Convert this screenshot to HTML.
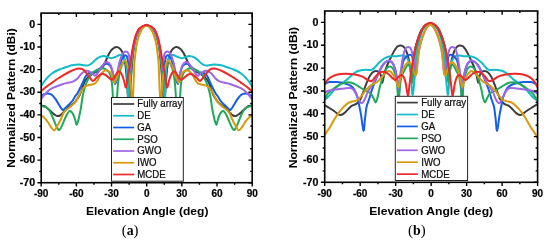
<!DOCTYPE html>
<html><head><meta charset="utf-8"><title>Normalized pattern vs elevation angle</title>
<style>html,body{margin:0;padding:0;background:#fff;}body{width:550px;height:242px;overflow:hidden;}svg{display:block;}</style>
</head><body>
<svg width="550" height="242" viewBox="0 0 550 242">
<rect width="550" height="242" fill="#fff"/>
<clipPath id="ca"><rect x="41.20" y="13.10" width="211.00" height="169.60"/></clipPath>
<g clip-path="url(#ca)" fill="none" stroke-width="2.00" stroke-linejoin="round" stroke-linecap="round">
<path stroke="#3d3d3d" d="M38.50,104.90C39.00,105.00 40.58,105.32 41.50,105.50C42.42,105.68 43.22,105.70 44.00,106.00C44.78,106.30 45.00,106.35 46.20,107.30C47.40,108.25 49.82,110.50 51.20,111.70C52.58,112.90 53.48,113.78 54.50,114.50C55.52,115.22 56.38,115.83 57.30,116.00C58.22,116.17 59.17,115.92 60.00,115.50C60.83,115.08 60.88,114.87 62.30,113.50C63.72,112.13 66.43,109.15 68.50,107.30C70.57,105.45 73.20,103.87 74.70,102.40C76.20,100.93 76.67,99.73 77.50,98.50C78.33,97.27 78.90,96.75 79.70,95.00C80.50,93.25 81.50,90.17 82.30,88.00C83.10,85.83 83.50,83.85 84.50,82.00C85.50,80.15 86.88,78.32 88.30,76.90C89.72,75.48 91.38,74.48 93.00,73.50C94.62,72.52 96.40,72.05 98.00,71.00C99.60,69.95 101.22,69.08 102.60,67.20C103.98,65.32 105.18,62.02 106.30,59.70C107.42,57.38 108.27,55.08 109.30,53.30C110.33,51.52 111.28,50.03 112.50,49.00C113.72,47.97 115.35,47.13 116.60,47.10C117.85,47.07 119.02,47.90 120.00,48.80C120.98,49.70 121.80,50.97 122.50,52.50C123.20,54.03 123.73,56.08 124.20,58.00C124.67,59.92 124.92,61.17 125.30,64.00C125.68,66.83 126.13,70.67 126.50,75.00C126.87,79.33 127.12,84.50 127.50,90.00C127.88,95.50 128.38,107.67 128.80,108.00C129.22,108.33 129.60,97.50 130.00,92.00C130.40,86.50 130.82,80.00 131.20,75.00C131.58,70.00 131.90,66.17 132.30,62.00C132.70,57.83 133.07,53.67 133.60,50.00C134.13,46.33 134.73,43.00 135.50,40.00C136.27,37.00 137.20,33.93 138.20,32.00C139.20,30.07 140.45,29.41 141.50,28.40C142.55,27.39 143.67,26.42 144.50,25.95C145.33,25.48 145.83,25.60 146.50,25.60C147.17,25.60 147.67,25.48 148.50,25.95C149.33,26.42 150.45,27.39 151.50,28.40C152.55,29.41 153.80,30.07 154.80,32.00C155.80,33.93 156.73,37.00 157.50,40.00C158.27,43.00 158.87,46.33 159.40,50.00C159.93,53.67 160.30,57.83 160.70,62.00C161.10,66.17 161.42,70.00 161.80,75.00C162.18,80.00 162.60,86.50 163.00,92.00C163.40,97.50 163.78,108.33 164.20,108.00C164.62,107.67 165.12,95.50 165.50,90.00C165.88,84.50 166.13,79.33 166.50,75.00C166.87,70.67 167.32,66.83 167.70,64.00C168.08,61.17 168.33,59.92 168.80,58.00C169.27,56.08 169.80,54.03 170.50,52.50C171.20,50.97 172.02,49.70 173.00,48.80C173.98,47.90 175.15,47.07 176.40,47.10C177.65,47.13 179.28,47.97 180.50,49.00C181.72,50.03 182.67,51.52 183.70,53.30C184.73,55.08 185.58,57.38 186.70,59.70C187.82,62.02 189.02,65.32 190.40,67.20C191.78,69.08 193.40,69.95 195.00,71.00C196.60,72.05 198.38,72.52 200.00,73.50C201.62,74.48 203.28,75.48 204.70,76.90C206.12,78.32 207.50,80.15 208.50,82.00C209.50,83.85 209.90,85.83 210.70,88.00C211.50,90.17 212.50,93.25 213.30,95.00C214.10,96.75 214.67,97.27 215.50,98.50C216.33,99.73 216.80,100.93 218.30,102.40C219.80,103.87 222.43,105.45 224.50,107.30C226.57,109.15 229.28,112.13 230.70,113.50C232.12,114.87 232.17,115.08 233.00,115.50C233.83,115.92 234.78,116.17 235.70,116.00C236.62,115.83 237.48,115.22 238.50,114.50C239.52,113.78 240.42,112.90 241.80,111.70C243.18,110.50 245.60,108.25 246.80,107.30C248.00,106.35 248.22,106.30 249.00,106.00C249.78,105.70 250.58,105.68 251.50,105.50C252.42,105.32 254.00,105.00 254.50,104.90"/>
<path stroke="#12bcc6" d="M38.50,89.80C39.00,89.07 40.50,86.87 41.50,85.40C42.50,83.93 43.42,82.40 44.50,81.00C45.58,79.60 46.75,78.25 48.00,77.00C49.25,75.75 50.67,74.50 52.00,73.50C53.33,72.50 54.67,71.72 56.00,71.00C57.33,70.28 58.67,69.73 60.00,69.20C61.33,68.67 62.67,68.25 64.00,67.80C65.33,67.35 66.67,66.92 68.00,66.50C69.33,66.08 70.28,65.65 72.00,65.30C73.72,64.95 76.55,64.45 78.30,64.40C80.05,64.35 81.12,64.80 82.50,65.00C83.88,65.20 85.43,65.63 86.60,65.60C87.77,65.57 88.63,65.18 89.50,64.80C90.37,64.42 90.88,64.05 91.80,63.30C92.72,62.55 93.97,61.22 95.00,60.30C96.03,59.38 97.00,58.43 98.00,57.80C99.00,57.17 100.00,56.80 101.00,56.50C102.00,56.20 102.83,55.87 104.00,56.00C105.17,56.13 106.73,56.93 108.00,57.30C109.27,57.67 110.43,58.25 111.60,58.20C112.77,58.15 113.77,57.48 115.00,57.00C116.23,56.52 117.92,55.58 119.00,55.30C120.08,55.02 120.75,55.02 121.50,55.30C122.25,55.58 122.83,55.88 123.50,57.00C124.17,58.12 124.92,59.50 125.50,62.00C126.08,64.50 126.53,65.67 127.00,72.00C127.47,78.33 127.88,98.67 128.30,100.00C128.72,101.33 129.13,85.33 129.50,80.00C129.87,74.67 130.12,71.58 130.50,68.00C130.88,64.42 131.33,61.83 131.80,58.50C132.27,55.17 132.68,51.42 133.30,48.00C133.92,44.58 134.63,40.92 135.50,38.00C136.37,35.08 137.42,32.30 138.50,30.50C139.58,28.70 140.92,28.01 142.00,27.20C143.08,26.39 144.25,25.92 145.00,25.65C145.75,25.38 146.00,25.60 146.50,25.60C147.00,25.60 147.25,25.38 148.00,25.65C148.75,25.92 149.92,26.39 151.00,27.20C152.08,28.01 153.42,28.70 154.50,30.50C155.58,32.30 156.63,35.08 157.50,38.00C158.37,40.92 159.08,44.58 159.70,48.00C160.32,51.42 160.73,55.17 161.20,58.50C161.67,61.83 162.12,64.42 162.50,68.00C162.88,71.58 163.13,74.67 163.50,80.00C163.87,85.33 164.28,101.33 164.70,100.00C165.12,98.67 165.53,78.33 166.00,72.00C166.47,65.67 166.92,64.50 167.50,62.00C168.08,59.50 168.83,58.12 169.50,57.00C170.17,55.88 170.75,55.58 171.50,55.30C172.25,55.02 172.92,55.02 174.00,55.30C175.08,55.58 176.77,56.52 178.00,57.00C179.23,57.48 180.23,58.15 181.40,58.20C182.57,58.25 183.73,57.67 185.00,57.30C186.27,56.93 187.83,56.13 189.00,56.00C190.17,55.87 191.00,56.20 192.00,56.50C193.00,56.80 194.00,57.17 195.00,57.80C196.00,58.43 196.97,59.38 198.00,60.30C199.03,61.22 200.28,62.55 201.20,63.30C202.12,64.05 202.63,64.42 203.50,64.80C204.37,65.18 205.23,65.57 206.40,65.60C207.57,65.63 209.12,65.20 210.50,65.00C211.88,64.80 212.95,64.35 214.70,64.40C216.45,64.45 219.28,64.95 221.00,65.30C222.72,65.65 223.67,66.08 225.00,66.50C226.33,66.92 227.67,67.35 229.00,67.80C230.33,68.25 231.67,68.67 233.00,69.20C234.33,69.73 235.67,70.28 237.00,71.00C238.33,71.72 239.67,72.50 241.00,73.50C242.33,74.50 243.75,75.75 245.00,77.00C246.25,78.25 247.42,79.60 248.50,81.00C249.58,82.40 250.50,83.93 251.50,85.40C252.50,86.87 254.00,89.07 254.50,89.80"/>
<path stroke="#155ee6" d="M38.50,98.16C39.00,97.80 40.58,96.66 41.50,96.00C42.42,95.34 42.93,94.63 44.00,94.20C45.07,93.77 46.82,93.40 47.90,93.40C48.98,93.40 49.67,93.78 50.50,94.20C51.33,94.62 52.07,95.07 52.90,95.90C53.73,96.73 54.67,98.03 55.50,99.20C56.33,100.37 57.15,101.68 57.90,102.90C58.65,104.12 59.28,105.38 60.00,106.50C60.72,107.62 61.62,109.05 62.20,109.60C62.78,110.15 62.65,110.38 63.50,109.80C64.35,109.22 65.85,107.53 67.30,106.10C68.75,104.67 70.92,102.80 72.20,101.20C73.48,99.60 74.17,97.75 75.00,96.50C75.83,95.25 76.42,94.95 77.20,93.70C77.98,92.45 78.68,91.03 79.70,89.00C80.72,86.97 82.28,83.67 83.30,81.50C84.32,79.33 84.83,77.42 85.80,76.00C86.77,74.58 87.90,73.58 89.10,73.00C90.30,72.42 91.68,72.83 93.00,72.50C94.32,72.17 95.58,71.92 97.00,71.00C98.42,70.08 100.33,68.08 101.50,67.00C102.67,65.92 103.18,65.05 104.00,64.50C104.82,63.95 105.43,63.57 106.40,63.70C107.37,63.83 108.87,64.25 109.80,65.30C110.73,66.35 111.30,67.88 112.00,70.00C112.70,72.12 113.50,75.67 114.00,78.00C114.50,80.33 114.42,84.00 115.00,84.00C115.58,84.00 116.75,80.67 117.50,78.00C118.25,75.33 118.83,71.00 119.50,68.00C120.17,65.00 120.82,61.92 121.50,60.00C122.18,58.08 122.98,57.30 123.60,56.50C124.22,55.70 124.65,55.20 125.20,55.20C125.75,55.20 126.42,55.37 126.90,56.50C127.38,57.63 127.75,59.42 128.10,62.00C128.45,64.58 128.75,69.00 129.00,72.00C129.25,75.00 129.37,80.33 129.60,80.00C129.83,79.67 130.12,73.33 130.40,70.00C130.68,66.67 130.90,63.33 131.30,60.00C131.70,56.67 132.15,53.50 132.80,50.00C133.45,46.50 134.28,42.20 135.20,39.00C136.12,35.80 137.25,32.68 138.30,30.80C139.35,28.92 140.38,28.57 141.50,27.70C142.62,26.83 144.17,25.95 145.00,25.60C145.83,25.25 146.00,25.60 146.50,25.60C147.00,25.60 147.17,25.25 148.00,25.60C148.83,25.95 150.38,26.83 151.50,27.70C152.62,28.57 153.65,28.92 154.70,30.80C155.75,32.68 156.88,35.80 157.80,39.00C158.72,42.20 159.55,46.50 160.20,50.00C160.85,53.50 161.30,56.67 161.70,60.00C162.10,63.33 162.32,66.67 162.60,70.00C162.88,73.33 163.17,79.67 163.40,80.00C163.63,80.33 163.75,75.00 164.00,72.00C164.25,69.00 164.55,64.58 164.90,62.00C165.25,59.42 165.62,57.63 166.10,56.50C166.58,55.37 167.25,55.20 167.80,55.20C168.35,55.20 168.78,55.70 169.40,56.50C170.02,57.30 170.82,58.08 171.50,60.00C172.18,61.92 172.83,65.00 173.50,68.00C174.17,71.00 174.75,75.33 175.50,78.00C176.25,80.67 177.42,84.00 178.00,84.00C178.58,84.00 178.50,80.33 179.00,78.00C179.50,75.67 180.30,72.12 181.00,70.00C181.70,67.88 182.27,66.35 183.20,65.30C184.13,64.25 185.63,63.83 186.60,63.70C187.57,63.57 188.18,63.95 189.00,64.50C189.82,65.05 190.33,65.92 191.50,67.00C192.67,68.08 194.58,70.08 196.00,71.00C197.42,71.92 198.68,72.17 200.00,72.50C201.32,72.83 202.70,72.42 203.90,73.00C205.10,73.58 206.23,74.58 207.20,76.00C208.17,77.42 208.68,79.33 209.70,81.50C210.72,83.67 212.28,86.97 213.30,89.00C214.32,91.03 215.02,92.45 215.80,93.70C216.58,94.95 217.17,95.25 218.00,96.50C218.83,97.75 219.52,99.60 220.80,101.20C222.08,102.80 224.25,104.67 225.70,106.10C227.15,107.53 228.65,109.22 229.50,109.80C230.35,110.38 230.22,110.15 230.80,109.60C231.38,109.05 232.28,107.62 233.00,106.50C233.72,105.38 234.35,104.12 235.10,102.90C235.85,101.68 236.67,100.37 237.50,99.20C238.33,98.03 239.27,96.73 240.10,95.90C240.93,95.07 241.67,94.62 242.50,94.20C243.33,93.78 244.02,93.40 245.10,93.40C246.18,93.40 247.93,93.77 249.00,94.20C250.07,94.63 250.58,95.34 251.50,96.00C252.42,96.66 254.00,97.80 254.50,98.16"/>
<path stroke="#22a85c" d="M38.50,105.40C39.00,105.50 40.58,105.82 41.50,106.00C42.42,106.18 43.22,106.28 44.00,106.50C44.78,106.72 45.37,106.72 46.20,107.30C47.03,107.88 48.17,108.88 49.00,110.00C49.83,111.12 50.43,112.42 51.20,114.00C51.97,115.58 52.80,117.58 53.60,119.50C54.40,121.42 55.17,123.78 56.00,125.50C56.83,127.22 57.85,129.30 58.60,129.80C59.35,130.30 59.88,129.32 60.50,128.50C61.12,127.68 61.38,126.95 62.30,124.90C63.22,122.85 64.97,118.35 66.00,116.20C67.03,114.05 67.85,112.87 68.50,112.00C69.15,111.13 69.40,111.00 69.90,111.00C70.40,111.00 70.90,111.33 71.50,112.00C72.10,112.67 72.83,113.50 73.50,115.00C74.17,116.50 74.98,119.35 75.50,121.00C76.02,122.65 76.18,124.82 76.60,124.90C77.02,124.98 77.60,122.75 78.00,121.50C78.40,120.25 78.52,119.65 79.00,117.40C79.48,115.15 80.32,111.40 80.90,108.00C81.48,104.60 81.97,100.02 82.50,97.00C83.03,93.98 83.42,92.32 84.10,89.90C84.78,87.48 85.87,84.40 86.60,82.50C87.33,80.60 87.82,79.85 88.50,78.50C89.18,77.15 89.63,75.63 90.70,74.40C91.77,73.17 93.52,72.00 94.90,71.10C96.28,70.20 97.77,69.48 99.00,69.00C100.23,68.52 101.07,68.05 102.30,68.20C103.53,68.35 105.15,69.00 106.40,69.90C107.65,70.80 108.98,72.08 109.80,73.60C110.62,75.12 110.90,76.93 111.30,79.00C111.70,81.07 111.95,83.33 112.20,86.00C112.45,88.67 112.58,91.83 112.80,95.00C113.02,98.17 113.17,102.17 113.50,105.00C113.83,107.83 114.33,112.00 114.80,112.00C115.27,112.00 115.90,107.83 116.30,105.00C116.70,102.17 116.95,98.17 117.20,95.00C117.45,91.83 117.57,88.67 117.80,86.00C118.03,83.33 118.23,81.50 118.60,79.00C118.97,76.50 119.43,73.33 120.00,71.00C120.57,68.67 121.28,66.45 122.00,65.00C122.72,63.55 123.55,62.47 124.30,62.30C125.05,62.13 125.88,62.88 126.50,64.00C127.12,65.12 127.55,66.67 128.00,69.00C128.45,71.33 128.87,74.50 129.20,78.00C129.53,81.50 129.73,90.00 130.00,90.00C130.27,90.00 130.55,82.17 130.80,78.00C131.05,73.83 131.22,68.67 131.50,65.00C131.78,61.33 132.00,59.67 132.50,56.00C133.00,52.33 133.67,46.83 134.50,43.00C135.33,39.17 136.42,35.50 137.50,33.00C138.58,30.50 139.75,29.23 141.00,28.00C142.25,26.77 144.08,26.05 145.00,25.65C145.92,25.25 146.00,25.60 146.50,25.60C147.00,25.60 147.08,25.25 148.00,25.65C148.92,26.05 150.75,26.77 152.00,28.00C153.25,29.23 154.42,30.50 155.50,33.00C156.58,35.50 157.67,39.17 158.50,43.00C159.33,46.83 160.00,52.33 160.50,56.00C161.00,59.67 161.22,61.33 161.50,65.00C161.78,68.67 161.95,73.83 162.20,78.00C162.45,82.17 162.73,90.00 163.00,90.00C163.27,90.00 163.47,81.50 163.80,78.00C164.13,74.50 164.55,71.33 165.00,69.00C165.45,66.67 165.88,65.12 166.50,64.00C167.12,62.88 167.95,62.13 168.70,62.30C169.45,62.47 170.28,63.55 171.00,65.00C171.72,66.45 172.43,68.67 173.00,71.00C173.57,73.33 174.03,76.50 174.40,79.00C174.77,81.50 174.97,83.33 175.20,86.00C175.43,88.67 175.55,91.83 175.80,95.00C176.05,98.17 176.30,102.17 176.70,105.00C177.10,107.83 177.73,112.00 178.20,112.00C178.67,112.00 179.17,107.83 179.50,105.00C179.83,102.17 179.98,98.17 180.20,95.00C180.42,91.83 180.55,88.67 180.80,86.00C181.05,83.33 181.30,81.07 181.70,79.00C182.10,76.93 182.38,75.12 183.20,73.60C184.02,72.08 185.35,70.80 186.60,69.90C187.85,69.00 189.47,68.35 190.70,68.20C191.93,68.05 192.77,68.52 194.00,69.00C195.23,69.48 196.72,70.20 198.10,71.10C199.48,72.00 201.23,73.17 202.30,74.40C203.37,75.63 203.82,77.15 204.50,78.50C205.18,79.85 205.67,80.60 206.40,82.50C207.13,84.40 208.22,87.48 208.90,89.90C209.58,92.32 209.97,93.98 210.50,97.00C211.03,100.02 211.52,104.60 212.10,108.00C212.68,111.40 213.52,115.15 214.00,117.40C214.48,119.65 214.60,120.25 215.00,121.50C215.40,122.75 215.98,124.98 216.40,124.90C216.82,124.82 216.98,122.65 217.50,121.00C218.02,119.35 218.83,116.50 219.50,115.00C220.17,113.50 220.90,112.67 221.50,112.00C222.10,111.33 222.60,111.00 223.10,111.00C223.60,111.00 223.85,111.13 224.50,112.00C225.15,112.87 225.97,114.05 227.00,116.20C228.03,118.35 229.78,122.85 230.70,124.90C231.62,126.95 231.88,127.68 232.50,128.50C233.12,129.32 233.65,130.30 234.40,129.80C235.15,129.30 236.17,127.22 237.00,125.50C237.83,123.78 238.60,121.42 239.40,119.50C240.20,117.58 241.03,115.58 241.80,114.00C242.57,112.42 243.17,111.12 244.00,110.00C244.83,108.88 245.97,107.88 246.80,107.30C247.63,106.72 248.22,106.72 249.00,106.50C249.78,106.28 250.58,106.18 251.50,106.00C252.42,105.82 254.00,105.50 254.50,105.40"/>
<path stroke="#9f66e6" d="M38.50,102.59C39.00,101.91 40.63,99.68 41.50,98.50C42.37,97.32 42.92,96.42 43.70,95.50C44.48,94.58 45.17,94.00 46.20,93.00C47.23,92.00 48.43,90.50 49.90,89.50C51.37,88.50 52.93,87.87 55.00,87.00C57.07,86.13 60.30,84.97 62.30,84.30C64.30,83.63 65.35,83.40 67.00,83.00C68.65,82.60 70.87,82.32 72.20,81.90C73.53,81.48 74.17,81.02 75.00,80.50C75.83,79.98 76.37,79.65 77.20,78.80C78.03,77.95 79.12,76.41 80.00,75.40C80.88,74.39 81.40,73.49 82.50,72.73C83.60,71.97 85.37,71.01 86.60,70.86C87.83,70.71 88.80,71.23 89.90,71.84C91.00,72.45 92.23,73.89 93.20,74.52C94.17,75.15 94.73,76.17 95.70,75.60C96.67,75.03 97.90,72.68 99.00,71.10C100.10,69.52 101.33,67.48 102.30,66.10C103.27,64.72 103.97,63.48 104.80,62.80C105.63,62.12 106.33,61.58 107.30,62.00C108.27,62.42 109.75,63.82 110.60,65.30C111.45,66.78 111.90,68.95 112.40,70.90C112.90,72.85 113.13,75.48 113.60,77.00C114.07,78.52 114.72,80.17 115.20,80.00C115.68,79.83 116.13,77.25 116.50,76.00C116.87,74.75 116.98,74.45 117.40,72.50C117.82,70.55 118.45,66.63 119.00,64.30C119.55,61.97 120.20,60.05 120.70,58.50C121.20,56.95 121.45,56.03 122.00,55.00C122.55,53.97 123.40,52.88 124.00,52.30C124.60,51.72 124.98,51.50 125.60,51.50C126.22,51.50 127.15,51.68 127.70,52.30C128.25,52.92 128.55,53.58 128.90,55.20C129.25,56.82 129.55,59.53 129.80,62.00C130.05,64.47 130.17,70.00 130.40,70.00C130.63,70.00 130.90,64.67 131.20,62.00C131.50,59.33 131.80,56.67 132.20,54.00C132.60,51.33 133.03,48.67 133.60,46.00C134.17,43.33 134.78,40.58 135.60,38.00C136.42,35.42 137.52,32.22 138.50,30.50C139.48,28.78 140.42,28.52 141.50,27.70C142.58,26.88 144.17,25.95 145.00,25.60C145.83,25.25 146.00,25.60 146.50,25.60C147.00,25.60 147.17,25.25 148.00,25.60C148.83,25.95 150.42,26.88 151.50,27.70C152.58,28.52 153.52,28.78 154.50,30.50C155.48,32.22 156.58,35.42 157.40,38.00C158.22,40.58 158.83,43.33 159.40,46.00C159.97,48.67 160.40,51.33 160.80,54.00C161.20,56.67 161.50,59.33 161.80,62.00C162.10,64.67 162.37,70.00 162.60,70.00C162.83,70.00 162.95,64.47 163.20,62.00C163.45,59.53 163.75,56.82 164.10,55.20C164.45,53.58 164.75,52.92 165.30,52.30C165.85,51.68 166.78,51.50 167.40,51.50C168.02,51.50 168.40,51.72 169.00,52.30C169.60,52.88 170.45,53.97 171.00,55.00C171.55,56.03 171.80,56.95 172.30,58.50C172.80,60.05 173.45,61.97 174.00,64.30C174.55,66.63 175.18,70.55 175.60,72.50C176.02,74.45 176.13,74.75 176.50,76.00C176.87,77.25 177.32,79.83 177.80,80.00C178.28,80.17 178.93,78.52 179.40,77.00C179.87,75.48 180.10,72.85 180.60,70.90C181.10,68.95 181.55,66.78 182.40,65.30C183.25,63.82 184.73,62.42 185.70,62.00C186.67,61.58 187.37,62.12 188.20,62.80C189.03,63.48 189.73,64.72 190.70,66.10C191.67,67.48 192.90,69.52 194.00,71.10C195.10,72.68 196.33,75.03 197.30,75.60C198.27,76.17 198.83,75.15 199.80,74.52C200.77,73.89 202.00,72.45 203.10,71.84C204.20,71.23 205.17,70.71 206.40,70.86C207.63,71.01 209.40,71.97 210.50,72.73C211.60,73.49 212.12,74.39 213.00,75.40C213.88,76.41 214.97,77.95 215.80,78.80C216.63,79.65 217.17,79.98 218.00,80.50C218.83,81.02 219.47,81.48 220.80,81.90C222.13,82.32 224.35,82.60 226.00,83.00C227.65,83.40 228.70,83.63 230.70,84.30C232.70,84.97 235.93,86.13 238.00,87.00C240.07,87.87 241.63,88.50 243.10,89.50C244.57,90.50 245.77,92.00 246.80,93.00C247.83,94.00 248.52,94.58 249.30,95.50C250.08,96.42 250.63,97.32 251.50,98.50C252.37,99.68 254.00,101.91 254.50,102.59"/>
<path stroke="#d69a0c" d="M38.50,113.25C39.00,113.62 40.67,114.88 41.50,115.50C42.33,116.12 42.72,116.27 43.50,117.00C44.28,117.73 45.37,118.90 46.20,119.90C47.03,120.90 47.67,121.77 48.50,123.00C49.33,124.23 50.23,126.07 51.20,127.30C52.17,128.53 53.28,130.60 54.30,130.40C55.32,130.20 56.17,128.05 57.30,126.10C58.43,124.15 60.07,120.88 61.10,118.70C62.13,116.52 62.68,114.45 63.50,113.00C64.32,111.55 64.97,110.95 66.00,110.00C67.03,109.05 68.20,108.55 69.70,107.30C71.20,106.05 73.62,104.13 75.00,102.50C76.38,100.87 77.08,99.17 78.00,97.50C78.92,95.83 79.67,94.00 80.50,92.50C81.33,91.00 82.17,89.53 83.00,88.50C83.83,87.47 84.50,86.88 85.50,86.30C86.50,85.72 87.92,85.30 89.00,85.00C90.08,84.70 91.00,84.75 92.00,84.50C93.00,84.25 94.12,84.12 95.00,83.50C95.88,82.88 96.50,82.05 97.30,80.80C98.10,79.55 99.02,77.30 99.80,76.00C100.58,74.70 101.30,73.82 102.00,73.00C102.70,72.18 103.27,71.55 104.00,71.10C104.73,70.65 105.43,70.17 106.40,70.30C107.37,70.43 108.83,70.95 109.80,71.90C110.77,72.85 111.58,74.57 112.20,76.00C112.82,77.43 113.10,79.33 113.50,80.50C113.90,81.67 114.18,83.08 114.60,83.00C115.02,82.92 115.57,81.02 116.00,80.00C116.43,78.98 116.58,78.80 117.20,76.90C117.82,75.00 118.88,70.80 119.70,68.60C120.52,66.40 121.30,65.03 122.10,63.70C122.90,62.37 123.77,60.78 124.50,60.60C125.23,60.42 125.90,61.30 126.50,62.60C127.10,63.90 127.55,66.17 128.10,68.40C128.65,70.63 129.32,72.73 129.80,76.00C130.28,79.27 130.57,83.33 131.00,88.00C131.43,92.67 132.02,103.67 132.40,104.00C132.78,104.33 133.05,94.83 133.30,90.00C133.55,85.17 133.70,79.67 133.90,75.00C134.10,70.33 134.25,65.50 134.50,62.00C134.75,58.50 135.08,56.67 135.40,54.00C135.72,51.33 136.02,48.33 136.40,46.00C136.78,43.67 137.18,41.95 137.70,40.00C138.22,38.05 138.83,36.02 139.50,34.30C140.17,32.58 140.87,31.04 141.70,29.70C142.53,28.36 143.70,26.93 144.50,26.25C145.30,25.57 145.83,25.60 146.50,25.60C147.17,25.60 147.70,25.57 148.50,26.25C149.30,26.93 150.47,28.36 151.30,29.70C152.13,31.04 152.83,32.58 153.50,34.30C154.17,36.02 154.78,38.05 155.30,40.00C155.82,41.95 156.22,43.67 156.60,46.00C156.98,48.33 157.28,51.33 157.60,54.00C157.92,56.67 158.25,58.50 158.50,62.00C158.75,65.50 158.90,70.33 159.10,75.00C159.30,79.67 159.45,85.17 159.70,90.00C159.95,94.83 160.22,104.33 160.60,104.00C160.98,103.67 161.57,92.67 162.00,88.00C162.43,83.33 162.72,79.27 163.20,76.00C163.68,72.73 164.35,70.63 164.90,68.40C165.45,66.17 165.90,63.90 166.50,62.60C167.10,61.30 167.77,60.42 168.50,60.60C169.23,60.78 170.10,62.37 170.90,63.70C171.70,65.03 172.48,66.40 173.30,68.60C174.12,70.80 175.18,75.00 175.80,76.90C176.42,78.80 176.57,78.98 177.00,80.00C177.43,81.02 177.98,82.92 178.40,83.00C178.82,83.08 179.10,81.67 179.50,80.50C179.90,79.33 180.18,77.43 180.80,76.00C181.42,74.57 182.23,72.85 183.20,71.90C184.17,70.95 185.63,70.43 186.60,70.30C187.57,70.17 188.27,70.65 189.00,71.10C189.73,71.55 190.30,72.18 191.00,73.00C191.70,73.82 192.42,74.70 193.20,76.00C193.98,77.30 194.90,79.55 195.70,80.80C196.50,82.05 197.12,82.88 198.00,83.50C198.88,84.12 200.00,84.25 201.00,84.50C202.00,84.75 202.92,84.70 204.00,85.00C205.08,85.30 206.50,85.72 207.50,86.30C208.50,86.88 209.17,87.47 210.00,88.50C210.83,89.53 211.67,91.00 212.50,92.50C213.33,94.00 214.08,95.83 215.00,97.50C215.92,99.17 216.62,100.87 218.00,102.50C219.38,104.13 221.80,106.05 223.30,107.30C224.80,108.55 225.97,109.05 227.00,110.00C228.03,110.95 228.68,111.55 229.50,113.00C230.32,114.45 230.87,116.52 231.90,118.70C232.93,120.88 234.57,124.15 235.70,126.10C236.83,128.05 237.68,130.20 238.70,130.40C239.72,130.60 240.83,128.53 241.80,127.30C242.77,126.07 243.67,124.23 244.50,123.00C245.33,121.77 245.97,120.90 246.80,119.90C247.63,118.90 248.72,117.73 249.50,117.00C250.28,116.27 250.67,116.12 251.50,115.50C252.33,114.88 254.00,113.62 254.50,113.25"/>
<path stroke="#f02828" d="M38.50,93.33C39.00,92.91 40.25,91.86 41.50,90.80C42.75,89.74 44.18,88.40 46.00,87.00C47.82,85.60 50.40,83.82 52.40,82.40C54.40,80.98 55.93,79.85 58.00,78.50C60.07,77.15 62.80,75.47 64.80,74.30C66.80,73.13 68.15,72.37 70.00,71.50C71.85,70.63 74.40,69.58 75.90,69.08C77.40,68.58 77.90,68.50 79.00,68.52C80.10,68.54 81.37,68.58 82.50,69.22C83.63,69.86 84.70,71.12 85.80,72.35C86.90,73.58 87.92,75.14 89.10,76.58C90.28,78.02 91.67,80.81 92.90,81.00C94.13,81.19 95.20,78.80 96.50,77.70C97.80,76.60 99.60,75.02 100.70,74.40C101.80,73.78 102.15,73.80 103.10,74.00C104.05,74.20 105.15,74.73 106.40,75.60C107.65,76.47 109.58,78.53 110.60,79.20C111.62,79.87 111.77,80.13 112.50,79.60C113.23,79.07 114.00,77.38 115.00,76.00C116.00,74.62 117.45,71.70 118.50,71.30C119.55,70.90 120.42,72.15 121.30,73.60C122.18,75.05 123.08,77.72 123.80,80.00C124.52,82.28 125.10,86.70 125.60,87.30C126.10,87.90 126.38,85.65 126.80,83.60C127.22,81.55 127.68,77.60 128.10,75.00C128.52,72.40 128.85,70.50 129.30,68.00C129.75,65.50 130.28,63.00 130.80,60.00C131.32,57.00 131.72,53.67 132.40,50.00C133.08,46.33 133.93,41.37 134.90,38.00C135.87,34.63 137.10,31.67 138.20,29.80C139.30,27.93 140.37,27.58 141.50,26.80C142.63,26.02 144.17,25.49 145.00,25.15C145.83,24.81 146.00,24.75 146.50,24.75C147.00,24.75 147.17,24.81 148.00,25.15C148.83,25.49 150.37,26.02 151.50,26.80C152.63,27.58 153.70,27.93 154.80,29.80C155.90,31.67 157.13,34.63 158.10,38.00C159.07,41.37 159.92,46.33 160.60,50.00C161.28,53.67 161.68,57.00 162.20,60.00C162.72,63.00 163.25,65.50 163.70,68.00C164.15,70.50 164.48,72.40 164.90,75.00C165.32,77.60 165.78,81.55 166.20,83.60C166.62,85.65 166.90,87.90 167.40,87.30C167.90,86.70 168.48,82.28 169.20,80.00C169.92,77.72 170.82,75.05 171.70,73.60C172.58,72.15 173.45,70.90 174.50,71.30C175.55,71.70 177.00,74.62 178.00,76.00C179.00,77.38 179.77,79.07 180.50,79.60C181.23,80.13 181.38,79.87 182.40,79.20C183.42,78.53 185.35,76.47 186.60,75.60C187.85,74.73 188.95,74.20 189.90,74.00C190.85,73.80 191.20,73.78 192.30,74.40C193.40,75.02 195.20,76.60 196.50,77.70C197.80,78.80 198.87,81.19 200.10,81.00C201.33,80.81 202.72,78.02 203.90,76.58C205.08,75.14 206.10,73.58 207.20,72.35C208.30,71.12 209.37,69.86 210.50,69.22C211.63,68.58 212.90,68.54 214.00,68.52C215.10,68.50 215.60,68.58 217.10,69.08C218.60,69.58 221.15,70.63 223.00,71.50C224.85,72.37 226.20,73.13 228.20,74.30C230.20,75.47 232.93,77.15 235.00,78.50C237.07,79.85 238.60,80.98 240.60,82.40C242.60,83.82 245.18,85.60 247.00,87.00C248.82,88.40 250.25,89.74 251.50,90.80C252.75,91.86 254.00,92.91 254.50,93.33"/>
</g>
<rect x="41.20" y="13.10" width="211.00" height="169.60" fill="none" stroke="#000" stroke-width="1.60"/>
<path stroke="#000" stroke-width="1.4" fill="none" d="M41.20,182.70v3.80M41.20,13.10v3.80M58.78,182.70v2.00M58.78,13.10v2.00M76.37,182.70v3.80M76.37,13.10v3.80M93.95,182.70v2.00M93.95,13.10v2.00M111.53,182.70v3.80M111.53,13.10v3.80M129.12,182.70v2.00M129.12,13.10v2.00M146.70,182.70v3.80M146.70,13.10v3.80M164.28,182.70v2.00M164.28,13.10v2.00M181.87,182.70v3.80M181.87,13.10v3.80M199.45,182.70v2.00M199.45,13.10v2.00M217.03,182.70v3.80M217.03,13.10v3.80M234.62,182.70v2.00M234.62,13.10v2.00M252.20,182.70v3.80M252.20,13.10v3.80M41.20,182.70h-3.80M252.20,182.70h-3.80M41.20,171.39h-2.00M252.20,171.39h-2.00M41.20,160.09h-3.80M252.20,160.09h-3.80M41.20,148.78h-2.00M252.20,148.78h-2.00M41.20,137.47h-3.80M252.20,137.47h-3.80M41.20,126.17h-2.00M252.20,126.17h-2.00M41.20,114.86h-3.80M252.20,114.86h-3.80M41.20,103.55h-2.00M252.20,103.55h-2.00M41.20,92.25h-3.80M252.20,92.25h-3.80M41.20,80.94h-2.00M252.20,80.94h-2.00M41.20,69.63h-3.80M252.20,69.63h-3.80M41.20,58.33h-2.00M252.20,58.33h-2.00M41.20,47.02h-3.80M252.20,47.02h-3.80M41.20,35.71h-2.00M252.20,35.71h-2.00M41.20,24.41h-3.80M252.20,24.41h-3.80"/>
<g font-family="Liberation Sans, Arial, sans-serif" font-weight="bold" font-size="10.00" fill="#000" stroke="#000" stroke-width="0.2">
<text x="41.20" y="197.00" text-anchor="middle">-90</text>
<text x="76.37" y="197.00" text-anchor="middle">-60</text>
<text x="111.53" y="197.00" text-anchor="middle">-30</text>
<text x="146.70" y="197.00" text-anchor="middle">0</text>
<text x="181.87" y="197.00" text-anchor="middle">30</text>
<text x="217.03" y="197.00" text-anchor="middle">60</text>
<text x="252.20" y="197.00" text-anchor="middle">90</text>
<text transform="translate(35.20,185.90) scale(1.07,1)" text-anchor="end">-70</text>
<text transform="translate(35.20,163.29) scale(1.07,1)" text-anchor="end">-60</text>
<text transform="translate(35.20,140.67) scale(1.07,1)" text-anchor="end">-50</text>
<text transform="translate(35.20,118.06) scale(1.07,1)" text-anchor="end">-40</text>
<text transform="translate(35.20,95.45) scale(1.07,1)" text-anchor="end">-30</text>
<text transform="translate(35.20,72.83) scale(1.07,1)" text-anchor="end">-20</text>
<text transform="translate(35.20,50.22) scale(1.07,1)" text-anchor="end">-10</text>
<text transform="translate(35.20,27.61) scale(1.07,1)" text-anchor="end">0</text>
</g>
<text x="147.15" y="215.00" text-anchor="middle" font-family="Liberation Sans, Arial, sans-serif" font-weight="bold" font-size="10.80" textLength="122.50" lengthAdjust="spacingAndGlyphs">Elevation Angle (deg)</text>
<text transform="translate(14.60,98.00) rotate(-90)" text-anchor="middle" font-family="Liberation Sans, Arial, sans-serif" font-weight="bold" font-size="10.80" textLength="139.50" lengthAdjust="spacingAndGlyphs">Normalized Pattern (dBi)</text>
<rect x="111.50" y="97.50" width="71.80" height="83.70" fill="#fff" stroke="#222" stroke-width="1"/>
<g font-family="Liberation Sans, Arial, sans-serif" font-size="10.00" fill="#111" stroke="#111" stroke-width="0.25">
<path stroke="#3d3d3d" stroke-width="1.7" d="M113.20,104.00H134.20"/>
<text transform="translate(137.30,107.40) scale(0.965,1)">Fully array</text>
<path stroke="#12bcc6" stroke-width="1.7" d="M113.20,115.75H134.20"/>
<text transform="translate(137.30,119.15) scale(0.965,1)">DE</text>
<path stroke="#155ee6" stroke-width="1.7" d="M113.20,127.50H134.20"/>
<text transform="translate(137.30,130.90) scale(0.965,1)">GA</text>
<path stroke="#22a85c" stroke-width="1.7" d="M113.20,139.25H134.20"/>
<text transform="translate(137.30,142.65) scale(0.965,1)">PSO</text>
<path stroke="#9f66e6" stroke-width="1.7" d="M113.20,151.00H134.20"/>
<text transform="translate(137.30,154.40) scale(0.965,1)">GWO</text>
<path stroke="#d69a0c" stroke-width="1.7" d="M113.20,162.75H134.20"/>
<text transform="translate(137.30,166.15) scale(0.965,1)">IWO</text>
<path stroke="#f02828" stroke-width="1.7" d="M113.20,174.50H134.20"/>
<text transform="translate(137.30,177.90) scale(0.965,1)">MCDE</text>
</g>
<text x="130.10" y="234.60" text-anchor="middle" font-family="Liberation Serif, Times New Roman, serif" font-size="14.80" fill="#000">(<tspan font-weight="bold" font-size="13.8">a</tspan>)</text>
<clipPath id="cb"><rect x="324.70" y="11.00" width="212.90" height="171.30"/></clipPath>
<g clip-path="url(#cb)" fill="none" stroke-width="2.00" stroke-linejoin="round" stroke-linecap="round">
<path stroke="#3d3d3d" d="M321.70,103.41C322.20,103.71 323.42,104.44 324.70,105.20C325.98,105.96 327.78,106.98 329.40,108.00C331.02,109.02 332.95,110.27 334.40,111.30C335.85,112.33 337.07,113.58 338.10,114.20C339.13,114.82 339.57,115.18 340.60,115.00C341.63,114.82 343.07,114.03 344.30,113.10C345.53,112.17 346.77,110.60 348.00,109.40C349.23,108.20 350.25,106.87 351.70,105.90C353.15,104.93 355.25,104.70 356.70,103.60C358.15,102.50 359.37,101.05 360.40,99.30C361.43,97.55 362.07,95.28 362.90,93.10C363.73,90.92 364.58,88.35 365.40,86.20C366.22,84.05 367.12,81.82 367.80,80.20C368.48,78.58 368.72,77.77 369.50,76.50C370.28,75.23 371.42,73.52 372.50,72.60C373.58,71.68 374.83,70.98 376.00,71.00C377.17,71.02 378.62,71.75 379.50,72.70C380.38,73.65 380.82,75.03 381.30,76.70C381.78,78.37 382.00,82.70 382.40,82.70C382.80,82.70 383.12,79.07 383.70,76.70C384.28,74.33 384.90,71.30 385.90,68.50C386.90,65.70 388.45,62.58 389.70,59.90C390.95,57.22 392.35,54.35 393.40,52.40C394.45,50.45 395.23,49.23 396.00,48.20C396.77,47.17 397.15,46.63 398.00,46.20C398.85,45.77 400.07,45.40 401.10,45.60C402.13,45.80 403.27,46.30 404.20,47.40C405.13,48.50 405.98,50.40 406.70,52.20C407.42,54.00 407.98,56.12 408.50,58.20C409.02,60.28 409.42,62.28 409.80,64.70C410.18,67.12 410.48,69.70 410.80,72.70C411.12,75.70 411.40,82.70 411.70,82.70C412.00,82.70 412.28,76.37 412.60,72.70C412.92,69.03 413.15,64.70 413.60,60.70C414.05,56.70 414.55,52.37 415.28,48.70C416.01,45.03 416.98,41.78 417.98,38.70C418.98,35.62 420.08,32.43 421.30,30.23C422.52,28.04 424.05,26.62 425.30,25.53C426.55,24.43 427.97,23.97 428.80,23.66C429.63,23.35 429.80,23.65 430.30,23.65C430.80,23.65 430.97,23.35 431.80,23.66C432.63,23.97 434.05,24.43 435.30,25.53C436.55,26.62 438.08,28.04 439.30,30.23C440.52,32.43 441.62,35.62 442.62,38.70C443.62,41.78 444.59,45.03 445.32,48.70C446.05,52.37 446.55,56.70 447.00,60.70C447.45,64.70 447.68,69.03 448.00,72.70C448.32,76.37 448.60,82.70 448.90,82.70C449.20,82.70 449.48,75.70 449.80,72.70C450.12,69.70 450.42,67.12 450.80,64.70C451.18,62.28 451.58,60.28 452.10,58.20C452.62,56.12 453.18,54.00 453.90,52.20C454.62,50.40 455.47,48.50 456.40,47.40C457.33,46.30 458.47,45.80 459.50,45.60C460.53,45.40 461.75,45.77 462.60,46.20C463.45,46.63 463.83,47.17 464.60,48.20C465.37,49.23 466.15,50.45 467.20,52.40C468.25,54.35 469.65,57.22 470.90,59.90C472.15,62.58 473.70,65.70 474.70,68.50C475.70,71.30 476.32,74.33 476.90,76.70C477.48,79.07 477.80,82.70 478.20,82.70C478.60,82.70 478.82,78.37 479.30,76.70C479.78,75.03 480.22,73.65 481.10,72.70C481.98,71.75 483.43,71.02 484.60,71.00C485.77,70.98 487.02,71.68 488.10,72.60C489.18,73.52 490.32,75.23 491.10,76.50C491.88,77.77 492.12,78.58 492.80,80.20C493.48,81.82 494.38,84.05 495.20,86.20C496.02,88.35 496.87,90.92 497.70,93.10C498.53,95.28 499.17,97.55 500.20,99.30C501.23,101.05 502.45,102.50 503.90,103.60C505.35,104.70 507.45,104.93 508.90,105.90C510.35,106.87 511.37,108.20 512.60,109.40C513.83,110.60 515.07,112.17 516.30,113.10C517.53,114.03 518.97,114.82 520.00,115.00C521.03,115.18 521.47,114.82 522.50,114.20C523.53,113.58 524.75,112.33 526.20,111.30C527.65,110.27 529.58,109.02 531.20,108.00C532.82,106.98 534.62,105.96 535.90,105.20C537.18,104.44 538.40,103.71 538.90,103.41"/>
<path stroke="#12bcc6" d="M321.70,102.19C322.20,101.77 323.62,100.60 324.70,99.70C325.78,98.80 327.00,98.00 328.20,96.80C329.40,95.60 330.67,93.95 331.90,92.50C333.13,91.05 334.15,89.52 335.60,88.10C337.05,86.68 339.15,85.08 340.60,84.00C342.05,82.92 343.07,82.47 344.30,81.59C345.53,80.71 346.55,79.97 348.00,78.70C349.45,77.44 351.50,75.20 353.00,74.00C354.50,72.80 355.67,72.12 357.00,71.50C358.33,70.88 359.50,70.58 361.00,70.30C362.50,70.02 364.50,69.85 366.00,69.80C367.50,69.75 368.87,70.08 370.00,70.00C371.13,69.92 371.85,69.88 372.80,69.30C373.75,68.72 374.60,67.67 375.70,66.50C376.80,65.33 378.02,63.63 379.40,62.30C380.78,60.97 382.23,59.54 384.00,58.54C385.77,57.54 387.87,56.69 390.00,56.30C392.13,55.91 394.88,56.33 396.80,56.20C398.72,56.07 400.22,55.58 401.50,55.50C402.78,55.42 403.58,55.33 404.50,55.70C405.42,56.07 406.25,56.53 407.00,57.70C407.75,58.87 408.37,60.20 409.00,62.70C409.63,65.20 410.22,67.37 410.80,72.70C411.38,78.03 411.90,93.37 412.50,94.70C413.10,96.03 413.90,85.03 414.40,80.70C414.90,76.37 415.18,72.37 415.50,68.70C415.82,65.03 415.95,62.20 416.30,58.70C416.65,55.20 417.03,51.20 417.62,47.70C418.21,44.20 418.97,40.70 419.82,37.70C420.67,34.70 421.62,31.74 422.70,29.68C423.78,27.62 425.22,26.34 426.30,25.34C427.38,24.34 428.50,23.94 429.17,23.66C429.84,23.38 429.92,23.65 430.30,23.65C430.68,23.65 430.76,23.38 431.43,23.66C432.10,23.94 433.22,24.34 434.30,25.34C435.38,26.34 436.82,27.62 437.90,29.68C438.98,31.74 439.93,34.70 440.78,37.70C441.63,40.70 442.39,44.20 442.98,47.70C443.57,51.20 443.95,55.20 444.30,58.70C444.65,62.20 444.78,65.03 445.10,68.70C445.42,72.37 445.70,76.37 446.20,80.70C446.70,85.03 447.50,96.03 448.10,94.70C448.70,93.37 449.22,78.03 449.80,72.70C450.38,67.37 450.97,65.20 451.60,62.70C452.23,60.20 452.85,58.87 453.60,57.70C454.35,56.53 455.18,56.07 456.10,55.70C457.02,55.33 457.82,55.42 459.10,55.50C460.38,55.58 461.88,56.07 463.80,56.20C465.72,56.33 468.47,55.91 470.60,56.30C472.73,56.69 474.83,57.54 476.60,58.54C478.37,59.54 479.82,60.97 481.20,62.30C482.58,63.63 483.80,65.33 484.90,66.50C486.00,67.67 486.85,68.72 487.80,69.30C488.75,69.88 489.47,69.92 490.60,70.00C491.73,70.08 493.10,69.75 494.60,69.80C496.10,69.85 498.10,70.02 499.60,70.30C501.10,70.58 502.27,70.88 503.60,71.50C504.93,72.12 506.10,72.80 507.60,74.00C509.10,75.20 511.15,77.44 512.60,78.70C514.05,79.97 515.07,80.71 516.30,81.59C517.53,82.47 518.55,82.92 520.00,84.00C521.45,85.08 523.55,86.68 525.00,88.10C526.45,89.52 527.47,91.05 528.70,92.50C529.93,93.95 531.20,95.60 532.40,96.80C533.60,98.00 534.82,98.80 535.90,99.70C536.98,100.60 538.40,101.77 538.90,102.19"/>
<path stroke="#155ee6" d="M321.70,85.21C322.20,85.01 323.42,84.52 324.70,84.00C325.98,83.48 327.37,82.42 329.40,82.10C331.43,81.78 334.42,81.92 336.90,82.10C339.38,82.28 342.03,82.60 344.30,83.20C346.57,83.80 348.85,84.67 350.50,85.70C352.15,86.73 353.07,87.55 354.20,89.40C355.33,91.25 356.47,94.12 357.30,96.80C358.13,99.48 358.58,102.52 359.20,105.50C359.82,108.48 360.28,110.50 361.00,114.70C361.72,118.90 362.83,130.03 363.50,130.70C364.17,131.37 364.48,122.70 365.00,118.70C365.52,114.70 365.92,109.93 366.60,106.70C367.28,103.47 368.27,101.98 369.10,99.30C369.93,96.62 370.78,93.12 371.60,90.60C372.42,88.08 373.10,86.52 374.00,84.20C374.90,81.88 376.00,79.12 377.00,76.70C378.00,74.28 379.00,71.70 380.00,69.70C381.00,67.70 381.92,66.03 383.00,64.70C384.08,63.37 385.33,62.28 386.50,61.70C387.67,61.12 388.83,60.70 390.00,61.20C391.17,61.70 392.50,62.78 393.50,64.70C394.50,66.62 395.32,69.37 396.00,72.70C396.68,76.03 397.18,80.03 397.60,84.70C398.02,89.37 398.13,100.70 398.50,100.70C398.87,100.70 399.30,89.70 399.80,84.70C400.30,79.70 400.88,74.70 401.50,70.70C402.12,66.70 402.70,63.03 403.50,60.70C404.30,58.37 405.32,57.70 406.30,56.70C407.28,55.70 408.45,54.83 409.40,54.70C410.35,54.57 411.43,54.90 412.00,55.90C412.57,56.90 412.58,58.90 412.80,60.70C413.02,62.50 413.17,64.87 413.30,66.70C413.43,68.53 413.48,72.37 413.60,71.70C413.72,71.03 413.77,66.20 414.00,62.70C414.23,59.20 414.36,54.50 415.00,50.70C415.64,46.90 416.86,42.98 417.83,39.90C418.80,36.82 419.72,34.55 420.80,32.24C421.88,29.94 423.10,27.45 424.30,26.07C425.50,24.69 427.00,24.34 428.00,23.94C429.00,23.54 429.53,23.65 430.30,23.65C431.07,23.65 431.60,23.54 432.60,23.94C433.60,24.34 435.10,24.69 436.30,26.07C437.50,27.45 438.72,29.94 439.80,32.24C440.88,34.55 441.80,36.82 442.77,39.90C443.74,42.98 444.96,46.90 445.60,50.70C446.24,54.50 446.37,59.20 446.60,62.70C446.83,66.20 446.88,71.03 447.00,71.70C447.12,72.37 447.17,68.53 447.30,66.70C447.43,64.87 447.58,62.50 447.80,60.70C448.02,58.90 448.03,56.90 448.60,55.90C449.17,54.90 450.25,54.57 451.20,54.70C452.15,54.83 453.32,55.70 454.30,56.70C455.28,57.70 456.30,58.37 457.10,60.70C457.90,63.03 458.48,66.70 459.10,70.70C459.72,74.70 460.30,79.70 460.80,84.70C461.30,89.70 461.73,100.70 462.10,100.70C462.47,100.70 462.58,89.37 463.00,84.70C463.42,80.03 463.92,76.03 464.60,72.70C465.28,69.37 466.10,66.62 467.10,64.70C468.10,62.78 469.43,61.70 470.60,61.20C471.77,60.70 472.93,61.12 474.10,61.70C475.27,62.28 476.52,63.37 477.60,64.70C478.68,66.03 479.60,67.70 480.60,69.70C481.60,71.70 482.60,74.28 483.60,76.70C484.60,79.12 485.70,81.88 486.60,84.20C487.50,86.52 488.18,88.08 489.00,90.60C489.82,93.12 490.67,96.62 491.50,99.30C492.33,101.98 493.32,103.47 494.00,106.70C494.68,109.93 495.08,114.70 495.60,118.70C496.12,122.70 496.43,131.37 497.10,130.70C497.77,130.03 498.88,118.90 499.60,114.70C500.32,110.50 500.78,108.48 501.40,105.50C502.02,102.52 502.47,99.48 503.30,96.80C504.13,94.12 505.27,91.25 506.40,89.40C507.53,87.55 508.45,86.73 510.10,85.70C511.75,84.67 514.03,83.80 516.30,83.20C518.57,82.60 521.22,82.28 523.70,82.10C526.18,81.92 529.17,81.78 531.20,82.10C533.23,82.42 534.62,83.48 535.90,84.00C537.18,84.52 538.40,85.01 538.90,85.21"/>
<path stroke="#22a85c" d="M321.70,102.77C322.20,102.00 323.82,99.54 324.70,98.20C325.58,96.86 326.22,95.75 327.00,94.70C327.78,93.65 328.17,93.00 329.40,91.90C330.63,90.80 332.53,89.38 334.40,88.10C336.27,86.82 338.53,85.15 340.60,84.20C342.67,83.25 344.73,82.57 346.80,82.40C348.87,82.23 350.93,82.45 353.00,83.20C355.07,83.95 357.13,85.67 359.20,86.90C361.27,88.13 363.55,89.57 365.40,90.60C367.25,91.63 368.97,91.87 370.30,93.10C371.63,94.33 372.52,96.45 373.40,98.00C374.28,99.55 374.92,102.45 375.60,102.40C376.28,102.35 376.87,99.98 377.50,97.70C378.13,95.42 378.67,91.70 379.40,88.70C380.13,85.70 381.22,82.10 381.90,79.70C382.58,77.30 382.67,76.22 383.50,74.30C384.33,72.38 385.82,69.50 386.90,68.20C387.98,66.90 388.98,66.42 390.00,66.50C391.02,66.58 392.17,67.50 393.00,68.70C393.83,69.90 394.37,71.70 395.00,73.70C395.63,75.70 396.23,76.20 396.80,80.70C397.37,85.20 397.87,99.87 398.40,100.70C398.93,101.53 399.48,89.70 400.00,85.70C400.52,81.70 400.80,79.15 401.50,76.70C402.20,74.25 403.32,72.80 404.20,71.00C405.08,69.20 406.12,66.93 406.80,65.90C407.48,64.87 407.77,64.67 408.30,64.80C408.83,64.93 409.47,65.05 410.00,66.70C410.53,68.35 411.12,72.03 411.50,74.70C411.88,77.37 412.05,82.70 412.30,82.70C412.55,82.70 412.75,78.03 413.00,74.70C413.25,71.37 413.40,66.70 413.80,62.70C414.20,58.70 414.68,54.53 415.40,50.70C416.12,46.87 417.16,42.93 418.14,39.70C419.12,36.48 420.16,33.70 421.30,31.35C422.44,29.00 423.83,26.85 425.00,25.60C426.17,24.35 427.42,24.17 428.30,23.85C429.18,23.52 429.63,23.65 430.30,23.65C430.97,23.65 431.42,23.52 432.30,23.85C433.18,24.17 434.43,24.35 435.60,25.60C436.77,26.85 438.16,29.00 439.30,31.35C440.44,33.70 441.48,36.48 442.46,39.70C443.44,42.93 444.48,46.87 445.20,50.70C445.92,54.53 446.40,58.70 446.80,62.70C447.20,66.70 447.35,71.37 447.60,74.70C447.85,78.03 448.05,82.70 448.30,82.70C448.55,82.70 448.72,77.37 449.10,74.70C449.48,72.03 450.07,68.35 450.60,66.70C451.13,65.05 451.77,64.93 452.30,64.80C452.83,64.67 453.12,64.87 453.80,65.90C454.48,66.93 455.52,69.20 456.40,71.00C457.28,72.80 458.40,74.25 459.10,76.70C459.80,79.15 460.08,81.70 460.60,85.70C461.12,89.70 461.67,101.53 462.20,100.70C462.73,99.87 463.23,85.20 463.80,80.70C464.37,76.20 464.97,75.70 465.60,73.70C466.23,71.70 466.77,69.90 467.60,68.70C468.43,67.50 469.58,66.58 470.60,66.50C471.62,66.42 472.62,66.90 473.70,68.20C474.78,69.50 476.27,72.38 477.10,74.30C477.93,76.22 478.02,77.30 478.70,79.70C479.38,82.10 480.47,85.70 481.20,88.70C481.93,91.70 482.47,95.42 483.10,97.70C483.73,99.98 484.32,102.35 485.00,102.40C485.68,102.45 486.32,99.55 487.20,98.00C488.08,96.45 488.97,94.33 490.30,93.10C491.63,91.87 493.35,91.63 495.20,90.60C497.05,89.57 499.33,88.13 501.40,86.90C503.47,85.67 505.53,83.95 507.60,83.20C509.67,82.45 511.73,82.23 513.80,82.40C515.87,82.57 517.93,83.25 520.00,84.20C522.07,85.15 524.33,86.82 526.20,88.10C528.07,89.38 529.97,90.80 531.20,91.90C532.43,93.00 532.82,93.65 533.60,94.70C534.38,95.75 535.02,96.86 535.90,98.20C536.78,99.54 538.40,102.00 538.90,102.77"/>
<path stroke="#9f66e6" d="M321.70,94.27C322.20,94.00 323.82,93.16 324.70,92.70C325.58,92.24 326.22,91.85 327.00,91.50C327.78,91.15 327.75,90.95 329.40,90.60C331.05,90.25 334.42,89.77 336.90,89.40C339.38,89.03 342.03,88.62 344.30,88.40C346.57,88.18 348.85,87.73 350.50,88.10C352.15,88.47 352.97,88.95 354.20,90.60C355.43,92.25 356.87,96.03 357.90,98.00C358.93,99.97 359.67,101.57 360.40,102.40C361.13,103.23 361.57,103.52 362.30,103.00C363.03,102.48 363.88,101.15 364.80,99.30C365.72,97.45 366.67,94.17 367.80,91.90C368.93,89.63 370.48,87.48 371.60,85.70C372.72,83.92 373.60,82.68 374.50,81.20C375.40,79.72 376.17,78.38 377.00,76.80C377.83,75.22 378.68,73.35 379.50,71.70C380.32,70.05 380.88,68.53 381.90,66.90C382.92,65.27 384.33,62.97 385.60,61.90C386.87,60.83 388.25,60.20 389.50,60.50C390.75,60.80 392.10,62.00 393.10,63.70C394.10,65.40 394.82,67.95 395.50,70.70C396.18,73.45 396.72,77.20 397.20,80.20C397.68,83.20 398.00,88.78 398.40,88.70C398.80,88.62 399.15,83.03 399.60,79.70C400.05,76.37 400.50,72.70 401.10,68.70C401.70,64.70 402.43,59.10 403.20,55.70C403.97,52.30 404.83,49.77 405.70,48.30C406.57,46.83 407.58,46.90 408.40,46.90C409.22,46.90 409.95,47.25 410.60,48.30C411.25,49.35 411.83,51.55 412.30,53.20C412.77,54.85 413.02,56.37 413.40,58.20C413.78,60.03 414.25,62.20 414.60,64.20C414.95,66.20 415.25,68.53 415.50,70.20C415.75,71.87 415.88,74.12 416.10,74.20C416.32,74.28 416.57,72.62 416.80,70.70C417.03,68.78 417.15,65.97 417.50,62.70C417.85,59.43 418.28,54.68 418.88,51.10C419.48,47.52 420.31,44.01 421.08,41.20C421.85,38.39 422.58,36.48 423.50,34.25C424.42,32.02 425.61,29.38 426.60,27.80C427.60,26.22 428.85,25.47 429.47,24.78C430.09,24.09 430.02,23.65 430.30,23.65C430.58,23.65 430.51,24.09 431.13,24.78C431.75,25.47 433.00,26.22 434.00,27.80C435.00,29.38 436.18,32.02 437.10,34.25C438.02,36.48 438.75,38.39 439.52,41.20C440.29,44.01 441.12,47.52 441.72,51.10C442.32,54.68 442.75,59.43 443.10,62.70C443.45,65.97 443.57,68.78 443.80,70.70C444.03,72.62 444.28,74.28 444.50,74.20C444.72,74.12 444.85,71.87 445.10,70.20C445.35,68.53 445.65,66.20 446.00,64.20C446.35,62.20 446.82,60.03 447.20,58.20C447.58,56.37 447.83,54.85 448.30,53.20C448.77,51.55 449.35,49.35 450.00,48.30C450.65,47.25 451.38,46.90 452.20,46.90C453.02,46.90 454.03,46.83 454.90,48.30C455.77,49.77 456.63,52.30 457.40,55.70C458.17,59.10 458.90,64.70 459.50,68.70C460.10,72.70 460.55,76.37 461.00,79.70C461.45,83.03 461.80,88.62 462.20,88.70C462.60,88.78 462.92,83.20 463.40,80.20C463.88,77.20 464.42,73.45 465.10,70.70C465.78,67.95 466.50,65.40 467.50,63.70C468.50,62.00 469.85,60.80 471.10,60.50C472.35,60.20 473.73,60.83 475.00,61.90C476.27,62.97 477.68,65.27 478.70,66.90C479.72,68.53 480.28,70.05 481.10,71.70C481.92,73.35 482.77,75.22 483.60,76.80C484.43,78.38 485.20,79.72 486.10,81.20C487.00,82.68 487.88,83.92 489.00,85.70C490.12,87.48 491.67,89.63 492.80,91.90C493.93,94.17 494.88,97.45 495.80,99.30C496.72,101.15 497.57,102.48 498.30,103.00C499.03,103.52 499.47,103.23 500.20,102.40C500.93,101.57 501.67,99.97 502.70,98.00C503.73,96.03 505.17,92.25 506.40,90.60C507.63,88.95 508.45,88.47 510.10,88.10C511.75,87.73 514.03,88.18 516.30,88.40C518.57,88.62 521.22,89.03 523.70,89.40C526.18,89.77 529.55,90.25 531.20,90.60C532.85,90.95 532.82,91.15 533.60,91.50C534.38,91.85 535.02,92.24 535.90,92.70C536.78,93.16 538.40,94.00 538.90,94.27"/>
<path stroke="#d69a0c" d="M321.70,140.42C322.20,139.55 323.82,136.74 324.70,135.20C325.58,133.66 326.22,132.40 327.00,131.20C327.78,130.00 328.17,129.98 329.40,128.00C330.63,126.02 332.75,121.98 334.40,119.30C336.05,116.62 337.65,114.08 339.30,111.90C340.95,109.72 342.63,107.78 344.30,106.20C345.97,104.62 347.65,103.25 349.30,102.40C350.95,101.55 352.77,101.55 354.20,101.10C355.63,100.65 356.65,100.62 357.90,99.70C359.15,98.78 360.45,97.12 361.70,95.60C362.95,94.08 364.17,92.05 365.40,90.60C366.63,89.15 368.00,87.88 369.10,86.90C370.20,85.92 371.02,85.32 372.00,84.70C372.98,84.08 374.00,83.78 375.00,83.20C376.00,82.62 377.08,81.95 378.00,81.20C378.92,80.45 379.67,79.58 380.50,78.70C381.33,77.82 382.10,76.87 383.00,75.90C383.90,74.93 384.90,73.70 385.90,72.90C386.90,72.10 387.98,71.07 389.00,71.10C390.02,71.13 391.02,71.95 392.00,73.10C392.98,74.25 394.10,76.35 394.90,78.00C395.70,79.65 396.18,81.55 396.80,83.00C397.42,84.45 397.97,87.67 398.60,86.70C399.23,85.73 399.83,80.15 400.60,77.20C401.37,74.25 402.25,71.23 403.20,69.00C404.15,66.77 405.37,64.93 406.30,63.80C407.23,62.67 407.95,62.03 408.80,62.20C409.65,62.37 410.62,63.33 411.40,64.80C412.18,66.27 412.80,69.18 413.50,71.00C414.20,72.82 415.05,75.75 415.60,75.70C416.15,75.65 416.48,72.87 416.80,70.70C417.12,68.53 417.15,65.97 417.50,62.70C417.85,59.43 418.28,54.68 418.88,51.10C419.48,47.52 420.31,44.01 421.08,41.20C421.85,38.39 422.58,36.48 423.50,34.25C424.42,32.02 425.61,29.38 426.60,27.80C427.60,26.22 428.85,25.47 429.47,24.78C430.09,24.09 430.02,23.65 430.30,23.65C430.58,23.65 430.51,24.09 431.13,24.78C431.75,25.47 433.00,26.22 434.00,27.80C435.00,29.38 436.18,32.02 437.10,34.25C438.02,36.48 438.75,38.39 439.52,41.20C440.29,44.01 441.12,47.52 441.72,51.10C442.32,54.68 442.75,59.43 443.10,62.70C443.45,65.97 443.48,68.53 443.80,70.70C444.12,72.87 444.45,75.65 445.00,75.70C445.55,75.75 446.40,72.82 447.10,71.00C447.80,69.18 448.42,66.27 449.20,64.80C449.98,63.33 450.95,62.37 451.80,62.20C452.65,62.03 453.37,62.67 454.30,63.80C455.23,64.93 456.45,66.77 457.40,69.00C458.35,71.23 459.23,74.25 460.00,77.20C460.77,80.15 461.37,85.73 462.00,86.70C462.63,87.67 463.18,84.45 463.80,83.00C464.42,81.55 464.90,79.65 465.70,78.00C466.50,76.35 467.62,74.25 468.60,73.10C469.58,71.95 470.58,71.13 471.60,71.10C472.62,71.07 473.70,72.10 474.70,72.90C475.70,73.70 476.70,74.93 477.60,75.90C478.50,76.87 479.27,77.82 480.10,78.70C480.93,79.58 481.68,80.45 482.60,81.20C483.52,81.95 484.60,82.62 485.60,83.20C486.60,83.78 487.62,84.08 488.60,84.70C489.58,85.32 490.40,85.92 491.50,86.90C492.60,87.88 493.97,89.15 495.20,90.60C496.43,92.05 497.65,94.08 498.90,95.60C500.15,97.12 501.45,98.78 502.70,99.70C503.95,100.62 504.97,100.65 506.40,101.10C507.83,101.55 509.65,101.55 511.30,102.40C512.95,103.25 514.63,104.62 516.30,106.20C517.97,107.78 519.65,109.72 521.30,111.90C522.95,114.08 524.55,116.62 526.20,119.30C527.85,121.98 529.97,126.02 531.20,128.00C532.43,129.98 532.82,130.00 533.60,131.20C534.38,132.40 535.02,133.66 535.90,135.20C536.78,136.74 538.40,139.55 538.90,140.42"/>
<path stroke="#f02828" d="M321.70,89.65C322.20,88.75 324.02,85.44 324.70,84.20C325.38,82.96 325.22,83.03 325.80,82.20C326.38,81.37 327.33,80.03 328.20,79.20C329.07,78.37 329.97,77.82 331.00,77.20C332.03,76.58 332.80,76.03 334.40,75.50C336.00,74.97 338.53,74.30 340.60,74.00C342.67,73.70 344.73,73.65 346.80,73.70C348.87,73.75 350.93,74.00 353.00,74.30C355.07,74.60 357.53,75.07 359.20,75.50C360.87,75.93 361.78,76.28 363.00,76.90C364.22,77.52 365.28,78.50 366.50,79.20C367.72,79.90 369.30,80.88 370.30,81.10C371.30,81.32 371.72,81.15 372.50,80.50C373.28,79.85 374.08,78.30 375.00,77.20C375.92,76.10 377.00,74.77 378.00,73.90C379.00,73.03 379.97,72.35 381.00,72.00C382.03,71.65 383.03,71.52 384.20,71.80C385.37,72.08 386.73,72.77 388.00,73.70C389.27,74.63 390.72,76.40 391.80,77.40C392.88,78.40 393.80,79.35 394.50,79.70C395.20,80.05 395.20,80.10 396.00,79.50C396.80,78.90 398.38,76.85 399.30,76.10C400.22,75.35 400.77,74.85 401.50,75.00C402.23,75.15 403.00,75.63 403.70,77.00C404.40,78.37 405.00,80.08 405.70,83.20C406.40,86.32 407.28,95.28 407.90,95.70C408.52,96.12 408.90,89.47 409.40,85.70C409.90,81.93 410.38,76.75 410.90,73.10C411.42,69.45 411.87,67.47 412.50,63.80C413.13,60.13 413.83,55.03 414.68,51.10C415.53,47.17 416.67,43.19 417.62,40.20C418.57,37.21 419.42,35.36 420.40,33.14C421.38,30.93 422.28,28.51 423.50,26.91C424.72,25.31 426.57,24.22 427.70,23.54C428.83,22.86 429.43,22.80 430.30,22.80C431.17,22.80 431.77,22.86 432.90,23.54C434.03,24.22 435.88,25.31 437.10,26.91C438.32,28.51 439.22,30.93 440.20,33.14C441.18,35.36 442.03,37.21 442.98,40.20C443.93,43.19 445.07,47.17 445.92,51.10C446.77,55.03 447.47,60.13 448.10,63.80C448.73,67.47 449.18,69.45 449.70,73.10C450.22,76.75 450.70,81.93 451.20,85.70C451.70,89.47 452.08,96.12 452.70,95.70C453.32,95.28 454.20,86.32 454.90,83.20C455.60,80.08 456.20,78.37 456.90,77.00C457.60,75.63 458.37,75.15 459.10,75.00C459.83,74.85 460.38,75.35 461.30,76.10C462.22,76.85 463.80,78.90 464.60,79.50C465.40,80.10 465.40,80.05 466.10,79.70C466.80,79.35 467.72,78.40 468.80,77.40C469.88,76.40 471.33,74.63 472.60,73.70C473.87,72.77 475.23,72.08 476.40,71.80C477.57,71.52 478.57,71.65 479.60,72.00C480.63,72.35 481.60,73.03 482.60,73.90C483.60,74.77 484.68,76.10 485.60,77.20C486.52,78.30 487.32,79.85 488.10,80.50C488.88,81.15 489.30,81.32 490.30,81.10C491.30,80.88 492.88,79.90 494.10,79.20C495.32,78.50 496.38,77.52 497.60,76.90C498.82,76.28 499.73,75.93 501.40,75.50C503.07,75.07 505.53,74.60 507.60,74.30C509.67,74.00 511.73,73.75 513.80,73.70C515.87,73.65 517.93,73.70 520.00,74.00C522.07,74.30 524.60,74.97 526.20,75.50C527.80,76.03 528.57,76.58 529.60,77.20C530.63,77.82 531.53,78.37 532.40,79.20C533.27,80.03 534.22,81.37 534.80,82.20C535.38,83.03 535.22,82.96 535.90,84.20C536.58,85.44 538.40,88.75 538.90,89.65"/>
</g>
<rect x="324.70" y="11.00" width="212.90" height="171.30" fill="none" stroke="#000" stroke-width="1.60"/>
<path stroke="#000" stroke-width="1.4" fill="none" d="M324.70,182.30v3.80M324.70,11.00v3.80M342.44,182.30v2.00M342.44,11.00v2.00M360.18,182.30v3.80M360.18,11.00v3.80M377.93,182.30v2.00M377.93,11.00v2.00M395.67,182.30v3.80M395.67,11.00v3.80M413.41,182.30v2.00M413.41,11.00v2.00M431.15,182.30v3.80M431.15,11.00v3.80M448.89,182.30v2.00M448.89,11.00v2.00M466.63,182.30v3.80M466.63,11.00v3.80M484.38,182.30v2.00M484.38,11.00v2.00M502.12,182.30v3.80M502.12,11.00v3.80M519.86,182.30v2.00M519.86,11.00v2.00M537.60,182.30v3.80M537.60,11.00v3.80M324.70,182.30h-3.80M537.60,182.30h-3.80M324.70,170.88h-2.00M537.60,170.88h-2.00M324.70,159.46h-3.80M537.60,159.46h-3.80M324.70,148.04h-2.00M537.60,148.04h-2.00M324.70,136.62h-3.80M537.60,136.62h-3.80M324.70,125.20h-2.00M537.60,125.20h-2.00M324.70,113.78h-3.80M537.60,113.78h-3.80M324.70,102.36h-2.00M537.60,102.36h-2.00M324.70,90.94h-3.80M537.60,90.94h-3.80M324.70,79.52h-2.00M537.60,79.52h-2.00M324.70,68.10h-3.80M537.60,68.10h-3.80M324.70,56.68h-2.00M537.60,56.68h-2.00M324.70,45.26h-3.80M537.60,45.26h-3.80M324.70,33.84h-2.00M537.60,33.84h-2.00M324.70,22.42h-3.80M537.60,22.42h-3.80"/>
<g font-family="Liberation Sans, Arial, sans-serif" font-weight="bold" font-size="10.00" fill="#000" stroke="#000" stroke-width="0.2">
<text x="324.70" y="196.60" text-anchor="middle">-90</text>
<text x="360.18" y="196.60" text-anchor="middle">-60</text>
<text x="395.67" y="196.60" text-anchor="middle">-30</text>
<text x="431.15" y="196.60" text-anchor="middle">0</text>
<text x="466.63" y="196.60" text-anchor="middle">30</text>
<text x="502.12" y="196.60" text-anchor="middle">60</text>
<text x="537.60" y="196.60" text-anchor="middle">90</text>
<text transform="translate(318.50,185.50) scale(1.07,1)" text-anchor="end">-70</text>
<text transform="translate(318.50,162.66) scale(1.07,1)" text-anchor="end">-60</text>
<text transform="translate(318.50,139.82) scale(1.07,1)" text-anchor="end">-50</text>
<text transform="translate(318.50,116.98) scale(1.07,1)" text-anchor="end">-40</text>
<text transform="translate(318.50,94.14) scale(1.07,1)" text-anchor="end">-30</text>
<text transform="translate(318.50,71.30) scale(1.07,1)" text-anchor="end">-20</text>
<text transform="translate(318.50,48.46) scale(1.07,1)" text-anchor="end">-10</text>
<text transform="translate(318.50,25.62) scale(1.07,1)" text-anchor="end">0</text>
</g>
<text x="431.15" y="215.00" text-anchor="middle" font-family="Liberation Sans, Arial, sans-serif" font-weight="bold" font-size="10.80" textLength="124.00" lengthAdjust="spacingAndGlyphs">Elevation Angle (deg)</text>
<text transform="translate(297.00,97.60) rotate(-90)" text-anchor="middle" font-family="Liberation Sans, Arial, sans-serif" font-weight="bold" font-size="10.80" textLength="141.50" lengthAdjust="spacingAndGlyphs">Normalized Pattern (dBi)</text>
<rect x="395.30" y="96.30" width="72.30" height="84.20" fill="#fff" stroke="#222" stroke-width="1"/>
<g font-family="Liberation Sans, Arial, sans-serif" font-size="10.00" fill="#111" stroke="#111" stroke-width="0.25">
<path stroke="#3d3d3d" stroke-width="1.7" d="M396.90,102.60H417.80"/>
<text transform="translate(421.20,106.00) scale(0.965,1)">Fully array</text>
<path stroke="#12bcc6" stroke-width="1.7" d="M396.90,114.52H417.80"/>
<text transform="translate(421.20,117.92) scale(0.965,1)">DE</text>
<path stroke="#155ee6" stroke-width="1.7" d="M396.90,126.44H417.80"/>
<text transform="translate(421.20,129.84) scale(0.965,1)">GA</text>
<path stroke="#22a85c" stroke-width="1.7" d="M396.90,138.36H417.80"/>
<text transform="translate(421.20,141.76) scale(0.965,1)">PSO</text>
<path stroke="#9f66e6" stroke-width="1.7" d="M396.90,150.28H417.80"/>
<text transform="translate(421.20,153.68) scale(0.965,1)">GWO</text>
<path stroke="#d69a0c" stroke-width="1.7" d="M396.90,162.20H417.80"/>
<text transform="translate(421.20,165.60) scale(0.965,1)">IWO</text>
<path stroke="#f02828" stroke-width="1.7" d="M396.90,174.12H417.80"/>
<text transform="translate(421.20,177.52) scale(0.965,1)">MCDE</text>
</g>
<text x="416.80" y="234.60" text-anchor="middle" font-family="Liberation Serif, Times New Roman, serif" font-size="14.80" fill="#000">(<tspan font-weight="bold" font-size="13.8">b</tspan>)</text>
</svg>
</body></html>
